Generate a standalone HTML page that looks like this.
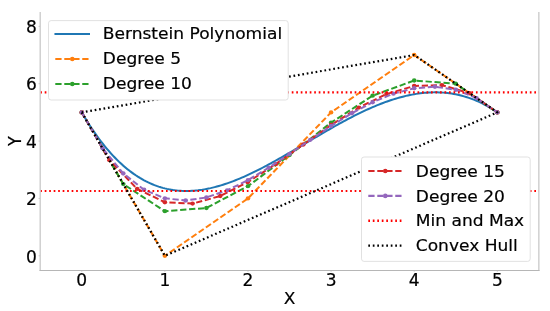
<!DOCTYPE html>
<html><head><meta charset="utf-8"><title>Bernstein Polynomial</title>
<style>html,body{margin:0;padding:0;background:#fff}svg{display:block}</style></head>
<body>
<svg width="550" height="311" viewBox="0 0 550 311">
<rect width="550" height="311" fill="#fff"/>
<defs><clipPath id="ax"><rect x="40.2" y="12" width="498.65" height="258.15"/></clipPath></defs>
<line x1="81.75" y1="270.40" x2="81.75" y2="271.80" stroke="#aaa" stroke-width="0.6"/>
<line x1="164.86" y1="270.40" x2="164.86" y2="271.80" stroke="#aaa" stroke-width="0.6"/>
<line x1="247.97" y1="270.40" x2="247.97" y2="271.80" stroke="#aaa" stroke-width="0.6"/>
<line x1="331.08" y1="270.40" x2="331.08" y2="271.80" stroke="#aaa" stroke-width="0.6"/>
<line x1="414.19" y1="270.40" x2="414.19" y2="271.80" stroke="#aaa" stroke-width="0.6"/>
<line x1="497.30" y1="270.40" x2="497.30" y2="271.80" stroke="#aaa" stroke-width="0.6"/>
<line x1="38.60" y1="255.81" x2="40.20" y2="255.81" stroke="#aaa" stroke-width="0.6"/>
<line x1="38.60" y1="198.44" x2="40.20" y2="198.44" stroke="#aaa" stroke-width="0.6"/>
<line x1="38.60" y1="141.07" x2="40.20" y2="141.07" stroke="#aaa" stroke-width="0.6"/>
<line x1="38.60" y1="83.71" x2="40.20" y2="83.71" stroke="#aaa" stroke-width="0.6"/>
<line x1="38.60" y1="26.34" x2="40.20" y2="26.34" stroke="#aaa" stroke-width="0.6"/>
<g clip-path="url(#ax)"><g transform="scale(1,0.94)" fill="none" stroke-width="2.1">
<polyline points="81.75,119.57 83.83,123.33 85.91,126.98 87.99,130.53 90.06,133.98 92.14,137.33 94.22,140.58 96.30,143.73 98.38,146.78 100.45,149.73 102.53,152.59 104.61,155.36 106.69,158.03 108.76,160.62 110.84,163.11 112.92,165.52 115.00,167.84 117.08,170.07 119.15,172.22 121.23,174.28 123.31,176.26 125.39,178.16 127.46,179.98 129.54,181.73 131.62,183.39 133.70,184.98 135.77,186.49 137.85,187.93 139.93,189.30 142.01,190.59 144.09,191.82 146.16,192.97 148.24,194.06 150.32,195.07 152.40,196.03 154.47,196.92 156.55,197.74 158.63,198.50 160.71,199.20 162.78,199.84 164.86,200.42 166.94,200.94 169.02,201.40 171.10,201.80 173.17,202.16 175.25,202.45 177.33,202.69 179.41,202.88 181.48,203.02 183.56,203.11 185.64,203.15 187.72,203.14 189.80,203.09 191.87,202.98 193.95,202.83 196.03,202.64 198.11,202.41 200.18,202.13 202.26,201.81 204.34,201.44 206.42,201.04 208.49,200.60 210.57,200.13 212.65,199.61 214.73,199.06 216.81,198.47 218.88,197.85 220.96,197.20 223.04,196.51 225.12,195.80 227.19,195.05 229.27,194.27 231.35,193.46 233.43,192.63 235.50,191.76 237.58,190.87 239.66,189.96 241.74,189.02 243.82,188.06 245.89,187.07 247.97,186.06 250.05,185.03 252.13,183.98 254.20,182.91 256.28,181.82 258.36,180.72 260.44,179.59 262.51,178.45 264.59,177.29 266.67,176.12 268.75,174.94 270.83,173.74 272.90,172.53 274.98,171.30 277.06,170.07 279.14,168.83 281.21,167.57 283.29,166.31 285.37,165.04 287.45,163.76 289.53,162.48 291.60,161.19 293.68,159.89 295.76,158.59 297.84,157.29 299.91,155.98 301.99,154.68 304.07,153.37 306.15,152.06 308.22,150.75 310.30,149.44 312.38,148.13 314.46,146.83 316.54,145.53 318.61,144.23 320.69,142.93 322.77,141.65 324.85,140.36 326.92,139.09 329.00,137.82 331.08,136.56 333.16,135.30 335.23,134.06 337.31,132.83 339.39,131.60 341.47,130.39 343.55,129.19 345.62,128.00 347.70,126.83 349.78,125.67 351.86,124.52 353.93,123.39 356.01,122.28 358.09,121.18 360.17,120.10 362.24,119.04 364.32,118.00 366.40,116.97 368.48,115.97 370.56,114.99 372.63,114.02 374.71,113.08 376.79,112.16 378.87,111.27 380.94,110.40 383.02,109.55 385.10,108.73 387.18,107.93 389.26,107.17 391.33,106.42 393.41,105.71 395.49,105.02 397.57,104.37 399.64,103.74 401.72,103.14 403.80,102.58 405.88,102.04 407.95,101.54 410.03,101.07 412.11,100.63 414.19,100.23 416.27,99.86 418.34,99.53 420.42,99.24 422.50,98.98 424.58,98.76 426.65,98.57 428.73,98.43 430.81,98.32 432.89,98.26 434.96,98.23 437.04,98.25 439.12,98.31 441.20,98.41 443.28,98.55 445.35,98.74 447.43,98.97 449.51,99.25 451.59,99.57 453.66,99.94 455.74,100.36 457.82,100.82 459.90,101.33 461.97,101.89 464.05,102.50 466.13,103.16 468.21,103.88 470.29,104.64 472.36,105.46 474.44,106.32 476.52,107.25 478.60,108.22 480.67,109.25 482.75,110.34 484.83,111.49 486.91,112.69 488.99,113.94 491.06,115.26 493.14,116.64 495.22,118.07 497.30,119.57" stroke="#1f77b4" stroke-linecap="square" stroke-linejoin="round"/>
<polyline points="81.75,119.57 164.86,272.14 247.97,211.11 331.08,119.57 414.19,58.54 497.30,119.57" stroke="#ff7f0e" stroke-dasharray="6.273 2.713" stroke-linejoin="round"/>
<g fill="#ff7f0e" stroke="none"><circle cx="81.75" cy="119.57" r="2.3"/><circle cx="164.86" cy="272.14" r="2.3"/><circle cx="247.97" cy="211.11" r="2.3"/><circle cx="331.08" cy="119.57" r="2.3"/><circle cx="414.19" cy="58.54" r="2.3"/><circle cx="497.30" cy="119.57" r="2.3"/></g>
<polyline points="81.75,119.57 123.31,195.85 164.86,224.67 206.42,221.28 247.97,198.03 289.53,164.97 331.08,130.46 372.63,101.77 414.19,85.66 455.74,89.05 497.30,119.57" stroke="#2ca02c" stroke-dasharray="6.273 2.713" stroke-linejoin="round"/>
<g fill="#2ca02c" stroke="none"><circle cx="81.75" cy="119.57" r="2.3"/><circle cx="123.31" cy="195.85" r="2.3"/><circle cx="164.86" cy="224.67" r="2.3"/><circle cx="206.42" cy="221.28" r="2.3"/><circle cx="247.97" cy="198.03" r="2.3"/><circle cx="289.53" cy="164.97" r="2.3"/><circle cx="331.08" cy="130.46" r="2.3"/><circle cx="372.63" cy="101.77" r="2.3"/><circle cx="414.19" cy="85.66" r="2.3"/><circle cx="455.74" cy="89.05" r="2.3"/><circle cx="497.30" cy="119.57" r="2.3"/></g>
<polyline points="81.75,119.57 109.46,170.42 137.16,200.94 164.86,215.13 192.57,216.59 220.27,208.48 247.97,193.64 275.67,174.62 303.38,153.71 331.08,133.01 358.78,114.48 386.48,100.01 414.19,91.40 441.89,90.50 469.59,99.22 497.30,119.57" stroke="#d62728" stroke-dasharray="6.273 2.713" stroke-linejoin="round"/>
<g fill="#d62728" stroke="none"><circle cx="81.75" cy="119.57" r="2.3"/><circle cx="109.46" cy="170.42" r="2.3"/><circle cx="137.16" cy="200.94" r="2.3"/><circle cx="164.86" cy="215.13" r="2.3"/><circle cx="192.57" cy="216.59" r="2.3"/><circle cx="220.27" cy="208.48" r="2.3"/><circle cx="247.97" cy="193.64" r="2.3"/><circle cx="275.67" cy="174.62" r="2.3"/><circle cx="303.38" cy="153.71" r="2.3"/><circle cx="331.08" cy="133.01" r="2.3"/><circle cx="358.78" cy="114.48" r="2.3"/><circle cx="386.48" cy="100.01" r="2.3"/><circle cx="414.19" cy="91.40" r="2.3"/><circle cx="441.89" cy="90.50" r="2.3"/><circle cx="469.59" cy="99.22" r="2.3"/><circle cx="497.30" cy="119.57" r="2.3"/></g>
<polyline points="81.75,119.57 102.53,157.71 123.31,184.61 144.09,201.87 164.86,210.98 185.64,213.30 206.42,210.08 227.19,202.49 247.97,191.60 268.75,178.41 289.53,163.85 310.30,148.79 331.08,134.07 351.86,120.46 372.63,108.74 393.41,99.64 414.19,93.90 434.96,92.26 455.74,95.48 476.52,104.31 497.30,119.57" stroke="#9467bd" stroke-dasharray="6.273 2.713" stroke-linejoin="round"/>
<g fill="#9467bd" stroke="none"><circle cx="81.75" cy="119.57" r="2.3"/><circle cx="102.53" cy="157.71" r="2.3"/><circle cx="123.31" cy="184.61" r="2.3"/><circle cx="144.09" cy="201.87" r="2.3"/><circle cx="164.86" cy="210.98" r="2.3"/><circle cx="185.64" cy="213.30" r="2.3"/><circle cx="206.42" cy="210.08" r="2.3"/><circle cx="227.19" cy="202.49" r="2.3"/><circle cx="247.97" cy="191.60" r="2.3"/><circle cx="268.75" cy="178.41" r="2.3"/><circle cx="289.53" cy="163.85" r="2.3"/><circle cx="310.30" cy="148.79" r="2.3"/><circle cx="331.08" cy="134.07" r="2.3"/><circle cx="351.86" cy="120.46" r="2.3"/><circle cx="372.63" cy="108.74" r="2.3"/><circle cx="393.41" cy="99.64" r="2.3"/><circle cx="414.19" cy="93.90" r="2.3"/><circle cx="434.96" cy="92.26" r="2.3"/><circle cx="455.74" cy="95.48" r="2.3"/><circle cx="476.52" cy="104.31" r="2.3"/><circle cx="497.30" cy="119.57" r="2.3"/></g>
<line x1="40.20" y1="203.15" x2="539.35" y2="203.15" stroke="#ff0000" stroke-width="2.3" stroke-dasharray="1.695 2.797"/>
<line x1="40.20" y1="98.23" x2="539.35" y2="98.23" stroke="#ff0000" stroke-width="2.3" stroke-dasharray="1.695 2.797"/>
<polyline points="81.75,119.57 164.86,272.14 497.30,119.57 414.19,58.54 81.75,119.57" stroke="#000" stroke-width="2.35" stroke-dasharray="1.695 2.797" stroke-linejoin="round"/>
</g></g>
<path d="M40.2 12 V270.9 M538.85 12 V270.9" stroke="#c9c9c9" stroke-width="1.3" fill="none"/>
<path d="M39.55 270.4 H539.5" stroke="#b6b6b6" stroke-width="1.05" fill="none"/>
<g font-family="'DejaVu Sans', 'Liberation Sans', sans-serif" font-size="17.05" fill="#000" stroke="#000" stroke-width="0.2" stroke-linejoin="round">
<text transform="translate(81.75,286.30) scale(1,1)" text-anchor="middle">0</text>
<text transform="translate(164.86,286.30) scale(1,1)" text-anchor="middle">1</text>
<text transform="translate(247.97,286.30) scale(1,1)" text-anchor="middle">2</text>
<text transform="translate(331.08,286.30) scale(1,1)" text-anchor="middle">3</text>
<text transform="translate(414.19,286.30) scale(1,1)" text-anchor="middle">4</text>
<text transform="translate(497.30,286.30) scale(1,1)" text-anchor="middle">5</text>
<text transform="translate(36.90,262.51) scale(1,1)" text-anchor="end">0</text>
<text transform="translate(36.90,205.14) scale(1,1)" text-anchor="end">2</text>
<text transform="translate(36.90,147.77) scale(1,1)" text-anchor="end">4</text>
<text transform="translate(36.90,90.41) scale(1,1)" text-anchor="end">6</text>
<text transform="translate(36.90,33.04) scale(1,1)" text-anchor="end">8</text>
<text transform="translate(289.53,304.20) scale(1,0.94)" text-anchor="middle">X</text>
<text transform="translate(20.80,141.07) scale(1,0.94) rotate(-90)" text-anchor="middle">Y</text>
<rect x="48.50" y="20.60" width="239.70" height="79.40" rx="2.6" ry="2.6" fill="#fff" stroke="#dedede" stroke-width="0.9"/>
<line x1="54.45" y1="33.95" x2="90.00" y2="33.95" stroke="#1f77b4" stroke-width="2.1"/>
<text transform="translate(102.80,39.30) scale(1,0.96)" text-anchor="start">Bernstein Polynomial</text>
<line x1="55.30" y1="59.00" x2="89.30" y2="59.00" stroke="#ff7f0e" stroke-width="2.1" stroke-dasharray="6.273 2.713"/>
<circle cx="72.30" cy="59.00" r="2.3" fill="#ff7f0e" stroke="none"/>
<text transform="translate(102.80,64.45) scale(1,0.96)" text-anchor="start">Degree 5</text>
<line x1="55.30" y1="83.95" x2="89.30" y2="83.95" stroke="#2ca02c" stroke-width="2.1" stroke-dasharray="6.273 2.713"/>
<circle cx="72.30" cy="83.95" r="2.3" fill="#2ca02c" stroke="none"/>
<text transform="translate(102.80,89.40) scale(1,0.96)" text-anchor="start">Degree 10</text>
<rect x="361.50" y="157.00" width="168.70" height="104.40" rx="2.6" ry="2.6" fill="#fff" stroke="#dedede" stroke-width="0.9"/>
<line x1="368.30" y1="171.00" x2="402.30" y2="171.00" stroke="#d62728" stroke-width="2.1" stroke-dasharray="6.273 2.713"/>
<circle cx="385.30" cy="171.00" r="2.3" fill="#d62728" stroke="none"/>
<text transform="translate(415.80,176.60) scale(1,0.96)" text-anchor="start">Degree 15</text>
<line x1="368.30" y1="195.90" x2="402.30" y2="195.90" stroke="#9467bd" stroke-width="2.1" stroke-dasharray="6.273 2.713"/>
<circle cx="385.30" cy="195.90" r="2.3" fill="#9467bd" stroke="none"/>
<text transform="translate(415.80,201.50) scale(1,0.96)" text-anchor="start">Degree 20</text>
<line x1="368.30" y1="220.75" x2="402.30" y2="220.75" stroke="#ff0000" stroke-width="2.3" stroke-dasharray="1.695 2.797"/>
<text transform="translate(415.80,226.40) scale(1,0.96)" text-anchor="start">Min and Max</text>
<line x1="368.30" y1="245.60" x2="402.30" y2="245.60" stroke="#000" stroke-width="2.3" stroke-dasharray="1.695 2.797"/>
<text transform="translate(415.80,251.30) scale(1,0.96)" text-anchor="start">Convex Hull</text>
</g>
</svg>
</body></html>
